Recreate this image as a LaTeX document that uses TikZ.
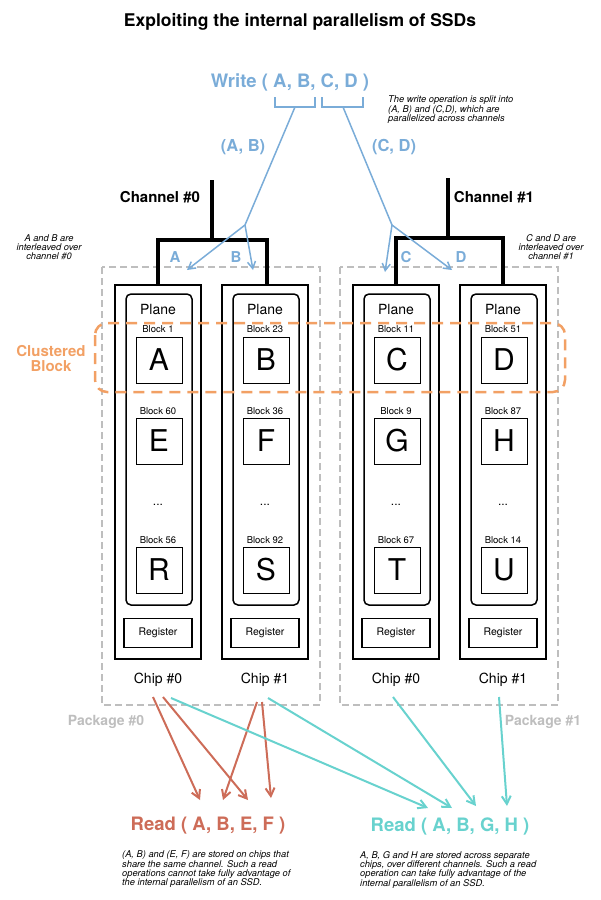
\documentclass[tikz,border=0pt]{standalone}
\usepackage{fontspec}
\setmainfont{TeX Gyre Heros}
\usetikzlibrary{arrows.meta}
\definecolor{wblue}{RGB}{122,172,216}
\definecolor{rred}{RGB}{205,108,88}
\definecolor{tteal}{RGB}{104,210,206}
\definecolor{orng}{RGB}{242,160,100}
\definecolor{pgray}{RGB}{190,190,190}
\newcommand{\fs}[1]{\fontsize{#1}{#1}\selectfont}
\begin{document}
\begin{tikzpicture}[x=1pt,y=-1pt,
  chip/.style={draw,line width=2.6pt},
  plane/.style={draw,line width=1.5pt,rounded corners=5pt},
  blk/.style={draw,line width=1pt,minimum width=46pt,minimum height=46pt,inner sep=0,font=\fs{30}},
  reg/.style={draw,line width=1.8pt,minimum width=68pt,minimum height=29pt,inner sep=0,font=\fs{10.5}},
  chan/.style={line width=3.4pt},
  wr/.style={wblue,line width=1.5pt},
  warr/.style={wr,-{Straight Barb[length=7pt,width=8pt]}},
  rarr/.style={rred,line width=2pt,-{Straight Barb[length=8pt,width=9pt]}},
  tarr/.style={tteal,line width=2pt,-{Straight Barb[length=8pt,width=9pt]}},
  pkg/.style={pgray,line width=1.1pt,dash pattern=on 7pt off 4pt},
  note/.style={font=\fs{9.3}\itshape,align=left,anchor=north west,inner sep=0}]
\useasboundingbox (0,0) rectangle (601,900);
\node[font=\fs{17.5}\bfseries] (title) at (300,22) {Exploiting the internal parallelism of SSDs};
% packages
\draw[pkg] (102,267) rectangle (320,705);
\draw[pkg] (340,267) rectangle (558,705);
\node[pgray,font=\fs{14}\bfseries] (p0) at (106,722) {Package \#0};
\node[pgray,font=\fs{14}\bfseries] (p1) at (543,722) {Package \#1};
% chips
\foreach \x/\a/\b/\c/\na/\nb/\nc/\i in {115/A/E/R/1/60/56/0,222/B/F/S/23/36/92/1,353/C/G/T/11/9/67/0,460/D/H/U/51/87/14/1}{
  \draw[chip] (\x,285) rectangle ++(86,374);
  \draw[plane] (\x+11,294) rectangle ++(66,311);
  \node[font=\fs{14}] (pl\a) at (\x+43,309) {Plane};
  \node[font=\fs{9.5}] (l\a) at (\x+43,329) {Block \na};
  \node[blk] (\a) at (\x+44,360) {\a};
  \node[font=\fs{9.5}] (l\b) at (\x+43,411) {Block \nb};
  \node[blk] (\b) at (\x+44,441) {\b};
  \node[font=\fs{12}] (d\a) at (\x+43,505) {...};
  \node[font=\fs{9.5}] (l\c) at (\x+43,540) {Block \nc};
  \node[blk] (\c) at (\x+44,570) {\c};
  \node[reg] (r\a) at (\x+43,633) {Register};
  \node[font=\fs{14}] (chip\a) at (\x+43,680) {Chip \#\i};
}
% channels
\draw[chan] (212,180) -- (212,240);
\draw[chan] (158,286) -- (158,240) -- (267,240) -- (267,286);
\node[font=\fs{15}\bfseries] (ch0) at (160,197) {Channel \#0};
\draw[chan] (448,178) -- (448,238);
\draw[chan] (396,286) -- (396,238) -- (503,238) -- (503,286);
\node[font=\fs{15}\bfseries] (ch1) at (494,197) {Channel \#1};
\node[font=\fs{9.3}\itshape,align=center] (n0) at (49,247) {A and B are\\interleaved over\\channel \#0};
\node[font=\fs{9.3}\itshape,align=center] (n1) at (551,247) {C and D are\\interleaved over\\channel \#1};
% clustered block
\draw[orng,line width=2.5pt,dash pattern=on 11pt off 7pt,rounded corners=12pt] (95,323) rectangle (565,392);
\node[orng,font=\fs{15}\bfseries,align=center] (cb) at (51,359) {Clustered\\Block};
% write
\node[wblue,font=\fs{18.5}\bfseries] (write) at (290,82) {Write ( A, B, C, D )};
\draw[wr] (275,97) -- (275,107) -- (315,107) -- (315,97);
\draw[wr] (322,97) -- (322,107) -- (363,107) -- (363,97);
\coordinate (wl) at (295,107);
\coordinate (wrr) at (343,107);
\coordinate (bl) at (245,225);
\coordinate (br) at (392,225);
\coordinate (ta) at (187,270);
\coordinate (tb) at (253,270);
\coordinate (tc) at (385,272);
\coordinate (td) at (452,270);
\draw[wr] (wl) -- (bl);
\draw[warr] (bl) -- (ta);
\draw[warr] (bl) -- (tb);
\draw[wr] (wrr) -- (br);
\draw[warr] (br) -- (tc);
\draw[warr] (br) -- (td);
\node[wblue,font=\fs{16.5}\bfseries] (ab) at (243,147) {(A, B)};
\node[wblue,font=\fs{16.5}\bfseries] (cd) at (394,147) {(C, D)};
\node[wblue,font=\fs{15}\bfseries] (la) at (175,257) {A};
\node[wblue,font=\fs{15}\bfseries] (lb) at (236,257) {B};
\node[wblue,font=\fs{15}\bfseries] (lc) at (406,257) {C};
\node[wblue,font=\fs{15}\bfseries] (ld) at (461,257) {D};
\node[note] (wn) at (388,96) {The write operation is split into\\(A, B) and (C,D), which are\\parallelized across channels};
% reads
\node[rred,font=\fs{18.5}\bfseries] (read1) at (208,826) {Read ( A, B, E, F )};
\node[tteal,font=\fs{18.5}\bfseries] (read2) at (450,826) {Read ( A, B, G, H )};
\coordinate (r1) at (200,800); \coordinate (r2) at (248,800);
\coordinate (r3) at (223,800); \coordinate (r4) at (271,798);
\draw[rarr] (153,697) -- (r1);
\draw[rarr] (163,697) -- (r2);
\draw[rarr] (257,702) -- (r3);
\draw[rarr] (262,702) -- (r4);
\coordinate (t1) at (428,808); \coordinate (t2) at (452,808);
\coordinate (t3) at (476,806); \coordinate (t4) at (507,806);
\draw[tarr] (171,698) -- (t1);
\draw[tarr] (268,698) -- (t2);
\draw[tarr] (393,697) -- (t3);
\draw[tarr] (499,697) -- (t4);
\node[note] (rn1) at (122,851) {(A, B) and (E, F) are stored on chips that\\share the same channel. Such a read\\operations cannot take fully advantage of\\the internal parallelism of an SSD.};
\node[note] (rn2) at (360,851) {A, B, G and H are stored across separate\\chips, over different channels. Such a read\\operation can take fully advantage of the\\internal parallelism of an SSD.};
\end{tikzpicture}
\end{document}
